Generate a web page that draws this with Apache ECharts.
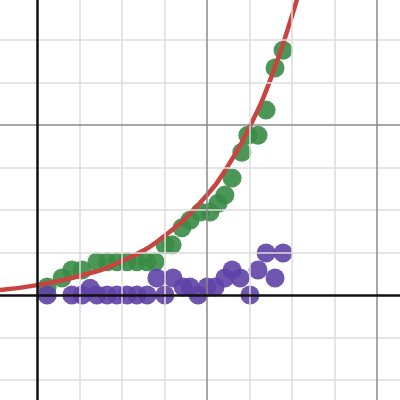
<!DOCTYPE html>
<html>
<head>
<meta charset="utf-8">
<script src="https://cdn.jsdelivr.net/npm/echarts@6/dist/echarts.min.js"></script>
<style>html,body{margin:0;padding:0;background:#fff}#main{width:400px;height:400px}</style>
</head>
<body>
<div id="main"></div>
<script>
const greenPoints = [[0.24,0.19],[0.59,0.40],[0.82,0.59],[1.06,0.59],[1.41,0.78],[1.65,0.78],[1.88,0.78],[2.12,0.78],[2.35,0.78],[2.59,0.78],[2.78,0.78],[3.01,1.18],[3.18,1.18],[3.41,1.58],[3.6,1.76],[3.84,1.95],[4.07,1.95],[4.26,2.16],[4.42,2.35],[4.59,2.75],[4.82,3.36],[4.96,3.76],[5.2,3.76],[5.39,4.35],[5.6,5.34],[5.79,5.76]];
const purplePoints = [[0.24,0],[0.82,0],[1.06,0],[1.25,0.16],[1.41,0],[1.65,0],[1.88,0],[2.12,0],[2.35,0],[2.59,0],[2.82,0.4],[3.01,0],[3.2,0.4],[3.44,0.19],[3.6,0.19],[3.79,0],[4,0.19],[4.19,0.19],[4.42,0.4],[4.59,0.59],[4.78,0.4],[5.01,0],[5.2,0.59],[5.39,0.99],[5.6,0.4],[5.79,0.99]];
const curvePoints = [[-0.87,0.115],[0,0.232],[1,0.447],[2,0.80],[3,1.39],[4,2.35],[4.5,3.05],[5,3.95],[5.5,5.09],[6,6.57],[6.2,7.27]];
const minorX = [-1,1,2,3,5,6,7];
const majorX = [4,8];
const minorY = [-2,-1,1,2,3,5,6];
const majorY = [4];

const chart = echarts.init(document.getElementById('main'));

function lines(xs, ys, color, width) {
  const data = [];
  xs.forEach(v => data.push({ xAxis: v }));
  ys.forEach(v => data.push({ yAxis: v }));
  return {
    type: 'line', data: [], silent: true,
    markLine: { silent: true, symbol: 'none', animation: false, label: { show: false },
      lineStyle: { color: color, width: width, type: 'solid' }, data: data }
  };
}

chart.setOption({
  animation: false,
  grid: { left: 0, right: 0, top: 0, bottom: 0 },
  xAxis: { type: 'value', min: -0.87, max: 8.54, show: false },
  yAxis: { type: 'value', min: -2.47, max: 6.94, show: false },
  series: [
    lines(minorX, minorY, '#dcdcdc', 1.5),
    lines(majorX, majorY, '#8a8a8a', 1.5),
    lines([0], [0], '#111', 2.5),
    { type: 'scatter', data: greenPoints, symbolSize: 19,
      itemStyle: { color: '#388c46', opacity: 0.9 } },
    { type: 'scatter', data: purplePoints, symbolSize: 19,
      itemStyle: { color: '#6042a6', opacity: 0.9 } },
    { type: 'line', data: curvePoints, smooth: true, showSymbol: false,
      lineStyle: { color: '#c74440', width: 4.5 } }
  ]
});
</script>
</body>
</html>
